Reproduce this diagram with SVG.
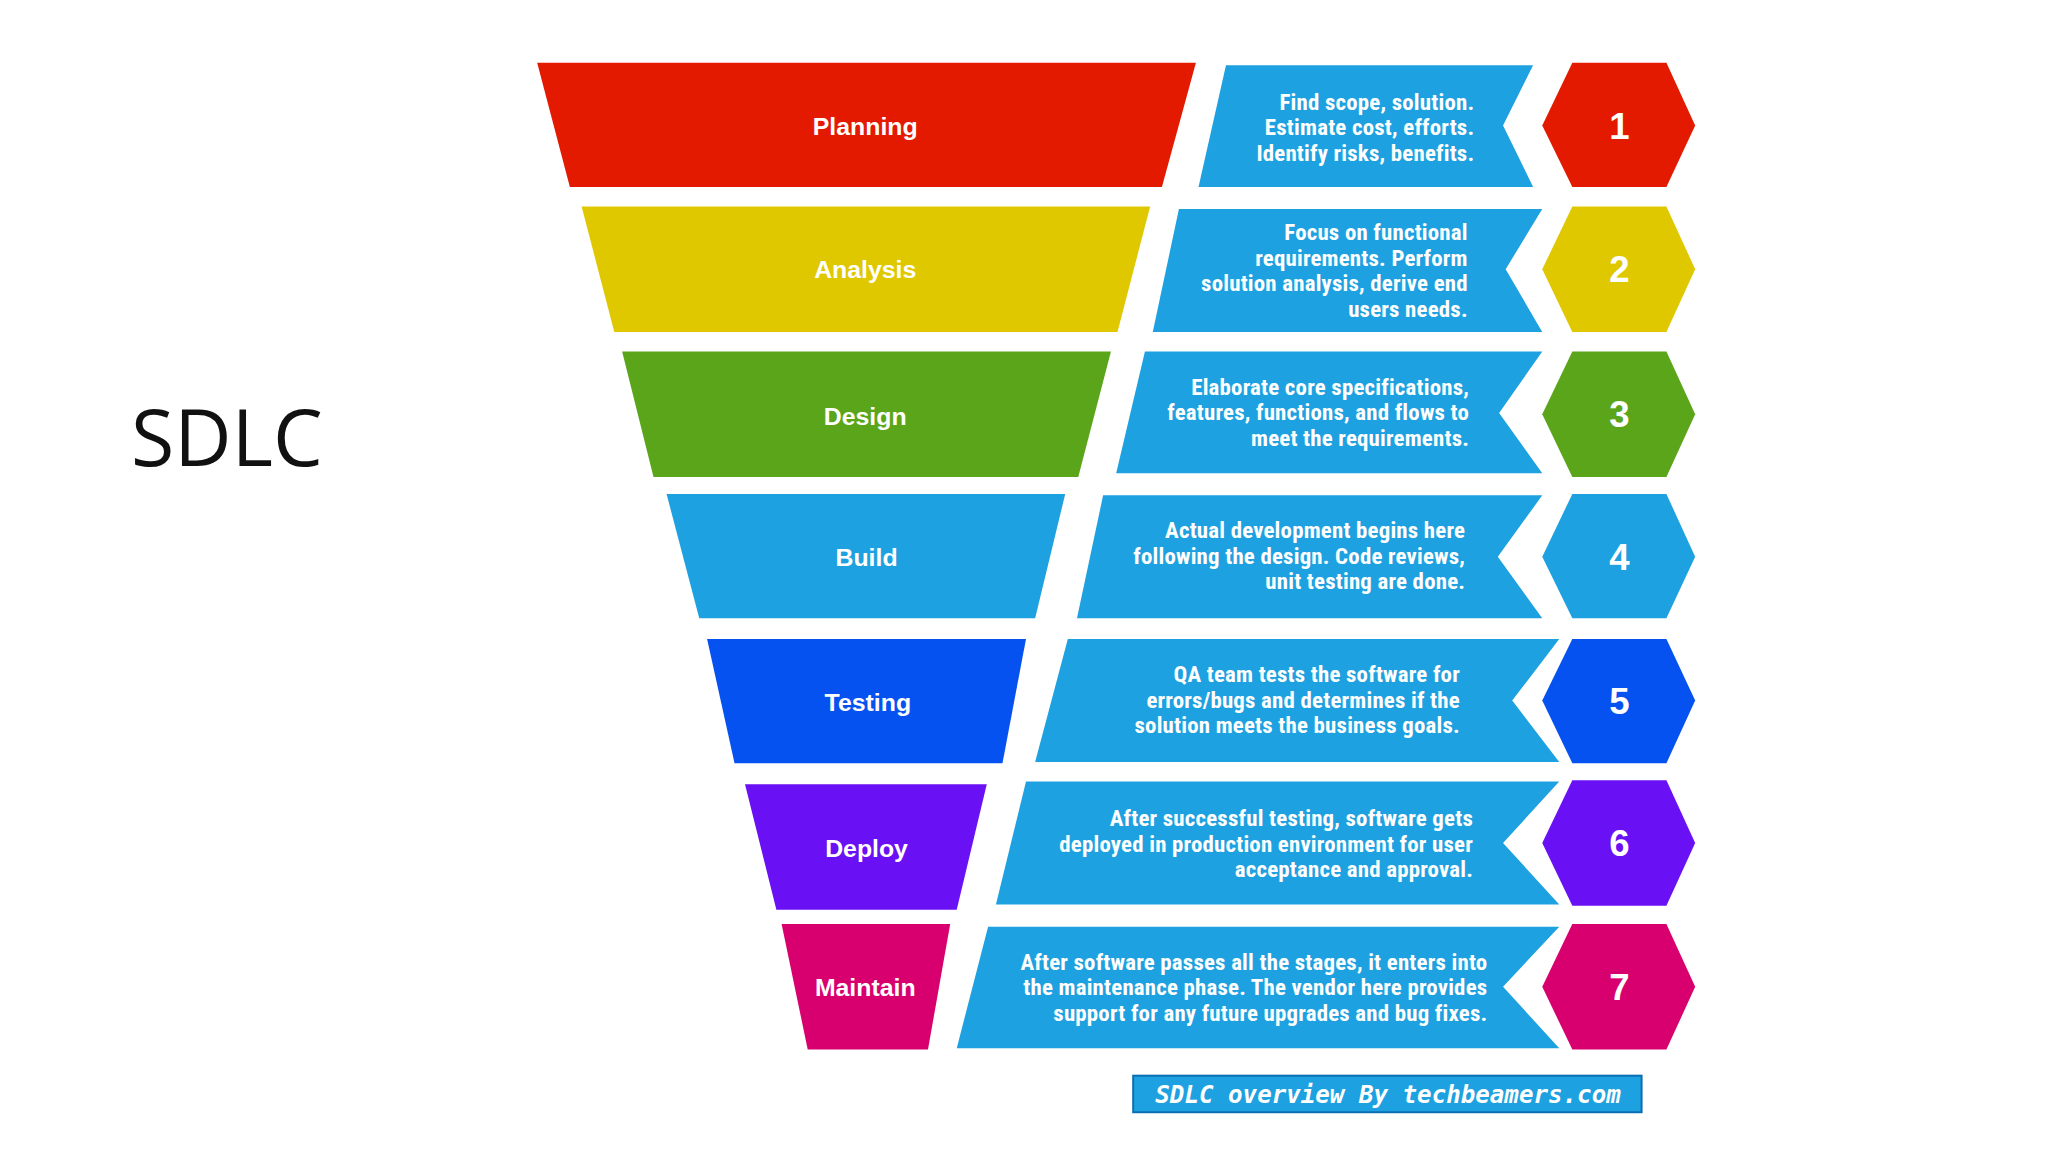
<svg xmlns="http://www.w3.org/2000/svg" width="2048" height="1152" viewBox="0 0 2048 1152">
<style>
.lbl{font-family:"Liberation Sans",Arial,sans-serif;font-weight:bold;font-size:19px;fill:#fff;text-anchor:middle}
.desc{font-family:"Liberation Sans Narrow","Roboto Condensed","Liberation Sans",sans-serif;font-weight:bold;font-size:17.5px;fill:#fff;text-anchor:end;letter-spacing:0.15px}
.num{font-family:"Liberation Sans",Arial,sans-serif;font-weight:bold;font-size:28px;fill:#fff;text-anchor:middle}
.box{fill:#1ea1e0}
</style>
<rect width="2048" height="1152" fill="#fff"/>
<text x="131" y="466" font-family="Open Sans,Liberation Sans,sans-serif" font-size="79" fill="#111">SDLC</text>
<g transform="scale(1.307)">
<g id="planning"><polygon points="411,48 915,48 889,143 436,143" fill="#e31a00"/><text class="lbl" x="662" y="103">Planning</text>
<polygon class="box" points="938,50 1173,50 1150,96 1173,143 917,143"/>
<text class="desc" y="84"><tspan x="1128">Find scope, solution.</tspan><tspan x="1128" dy="19.5">Estimate cost, efforts.</tspan><tspan x="1128" dy="19.5">Identify risks, benefits.</tspan></text>
<polygon points="1203,48 1275,48 1297,96 1275,143 1203,143 1180,96" fill="#e31a00"/><text class="num" x="1239" y="106">1</text></g>
<g id="analysis"><polygon points="445,158 880,158 855,254 470,254" fill="#e0c800"/><text class="lbl" x="662" y="213">Analysis</text>
<polygon class="box" points="902,160 1180,160 1152,206 1180,254 882,254"/>
<text class="desc" y="184"><tspan x="1123">Focus on functional</tspan><tspan x="1123" dy="19.5">requirements. Perform</tspan><tspan x="1123" dy="19.5">solution analysis, derive end</tspan><tspan x="1123" dy="19.5">users needs.</tspan></text>
<polygon points="1203,158 1275,158 1297,206 1275,254 1203,254 1180,206" fill="#e0c800"/><text class="num" x="1239" y="216">2</text></g>
<g id="design"><polygon points="476,269 850,269 825,365 500,365" fill="#5aa51a"/><text class="lbl" x="662" y="325">Design</text>
<polygon class="box" points="876,269 1180,269 1147,316 1180,362 854,362"/>
<text class="desc" y="302"><tspan x="1124">Elaborate core specifications,</tspan><tspan x="1124" dy="19.5">features, functions, and flows to</tspan><tspan x="1124" dy="19.5">meet the requirements.</tspan></text>
<polygon points="1203,269 1275,269 1297,317 1275,365 1203,365 1180,317" fill="#5aa51a"/><text class="num" x="1239" y="327">3</text></g>
<g id="build"><polygon points="510,378 815,378 792,473 535,473" fill="#1ea1e0"/><text class="lbl" x="663" y="433">Build</text>
<polygon class="box" points="844,379 1180,379 1146,426 1180,473 824,473"/>
<text class="desc" y="412"><tspan x="1121">Actual development begins here</tspan><tspan x="1121" dy="19.5">following the design. Code reviews,</tspan><tspan x="1121" dy="19.5">unit testing are done.</tspan></text>
<polygon points="1203,378 1275,378 1297,426 1275,473 1203,473 1180,426" fill="#1ea1e0"/><text class="num" x="1239" y="436">4</text></g>
<g id="testing"><polygon points="541,489 785,489 767,584 562,584" fill="#0652f0"/><text class="lbl" x="664" y="544">Testing</text>
<polygon class="box" points="817,489 1193,489 1157,536 1193,583 792,583"/>
<text class="desc" y="522"><tspan x="1117">QA team tests the software for</tspan><tspan x="1117" dy="19.5">errors/bugs and determines if the</tspan><tspan x="1117" dy="19.5">solution meets the business goals.</tspan></text>
<polygon points="1203,489 1275,489 1297,536 1275,584 1203,584 1180,536" fill="#0652f0"/><text class="num" x="1239" y="546">5</text></g>
<g id="deploy"><polygon points="570,600 755,600 732,696 594,696" fill="#6a10f5"/><text class="lbl" x="663" y="656">Deploy</text>
<polygon class="box" points="785,598 1193,598 1150,645 1193,692 762,692"/>
<text class="desc" y="632"><tspan x="1127">After successful testing, software gets</tspan><tspan x="1127" dy="19.5">deployed in production environment for user</tspan><tspan x="1127" dy="19.5">acceptance and approval.</tspan></text>
<polygon points="1203,597 1275,597 1297,645 1275,693 1203,693 1180,645" fill="#6a10f5"/><text class="num" x="1239" y="655">6</text></g>
<g id="maintain"><polygon points="598,707 727,707 710,803 618,803" fill="#d8006e"/><text class="lbl" x="662" y="762">Maintain</text>
<polygon class="box" points="756,709 1193,709 1150,755 1193,802 732,802"/>
<text class="desc" y="742"><tspan x="1138">After software passes all the stages, it enters into</tspan><tspan x="1138" dy="19.5">the maintenance phase. The vendor here provides</tspan><tspan x="1138" dy="19.5">support for any future upgrades and bug fixes.</tspan></text>
<polygon points="1203,707 1275,707 1297,755 1275,803 1203,803 1180,755" fill="#d8006e"/><text class="num" x="1239" y="765">7</text></g>
<g id="footer"><rect x="867" y="823" width="389" height="28" fill="#1ea1e0" stroke="#0a6fb0" stroke-width="1.5"/>
<text x="1062" y="844" text-anchor="middle" font-family="DejaVu Sans Mono,Liberation Mono,monospace" font-style="italic" font-weight="bold" font-size="18.5" fill="#fff">SDLC overview By techbeamers.com</text></g>
</g>
<g id="connectors"/>
</svg>
